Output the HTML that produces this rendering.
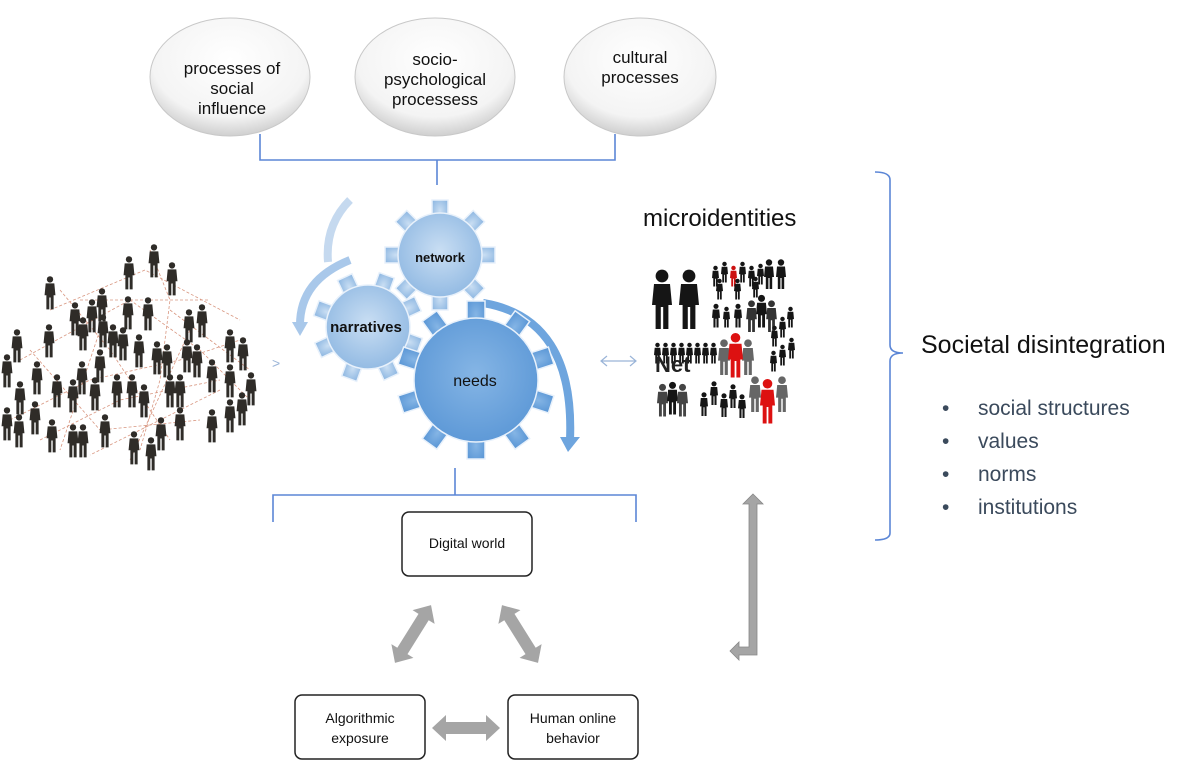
<!DOCTYPE html>
<html><head><meta charset="utf-8"><style>
html,body{margin:0;padding:0;background:#fff}
svg{display:block}
text{font-family:"Liberation Sans",sans-serif}
</style></head><body>
<svg width="1200" height="763" viewBox="0 0 1200 763" xmlns="http://www.w3.org/2000/svg">
<defs>
<radialGradient id="ov" cx="50%" cy="35%" r="65%">
<stop offset="0" stop-color="#ffffff"/><stop offset="0.75" stop-color="#f4f4f4"/><stop offset="1" stop-color="#cfcfcf"/>
</radialGradient>
<radialGradient id="gs" cx="50%" cy="45%" r="60%">
<stop offset="0" stop-color="#c9def3"/><stop offset="1" stop-color="#8fb8e2"/>
</radialGradient>
<radialGradient id="gb" cx="50%" cy="45%" r="60%">
<stop offset="0" stop-color="#85b5e5"/><stop offset="1" stop-color="#5b97d6"/>
</radialGradient>
<symbol id="p" viewBox="0 0 10 30" overflow="visible">
<circle cx="5" cy="3" r="2.8" fill="#2f2c28"/>
<path d="M1.2 6.5 H8.8 L9.8 17 H8.2 V29.5 H5.6 V19 H4.4 V29.5 H1.8 V17 H0.2 Z" fill="#2f2c28"/>
</symbol>
<symbol id="q" viewBox="0 0 10 30" overflow="visible">
<circle cx="5" cy="3.5" r="3.2"/>
<path d="M1 7.5 H9 L10 18 H8.2 V30 H5.6 V19 H4.4 V30 H1.8 V18 H0 Z"/>
</symbol>
<path id="dbl" d="M-34 0 L-20 -13 L-20 -6 L20 -6 L20 -13 L34 0 L20 13 L20 6 L-20 6 L-20 13 Z"/>
</defs>

<!-- top ovals -->
<ellipse cx="230" cy="77" rx="80" ry="59" fill="url(#ov)" stroke="#c8c8c8"/>
<ellipse cx="435" cy="77" rx="80" ry="59" fill="url(#ov)" stroke="#c8c8c8"/>
<ellipse cx="640" cy="77" rx="76" ry="59" fill="url(#ov)" stroke="#c8c8c8"/>
<g font-size="17" fill="#111" text-anchor="middle">
<text x="232" y="74">processes of</text><text x="232" y="94">social</text><text x="232" y="114">influence</text>
<text x="435" y="65">socio-</text><text x="435" y="85">psychological</text><text x="435" y="105">processess</text>
<text x="640" y="63">cultural</text><text x="640" y="83">processes</text>
</g>
<path d="M260 134 V160 H615 V134 M437 160 V185" fill="none" stroke="#5b86d6" stroke-width="1.6"/>
<path d="M455 468 V495 M273 522 V495 H636 V522" fill="none" stroke="#5b86d6" stroke-width="1.6"/>

<!-- people network -->
<g stroke="#c86a4a" stroke-width="0.8" stroke-dasharray="3 2" opacity="0.7" fill="none">
<path d="M50 310 L145 270 L240 320 M20 360 L130 300 L200 350 L250 400 M40 440 L120 400 L220 380 M60 290 L110 350 L170 440 M150 250 L170 300 L160 380 L140 450 M10 420 L90 380 L180 360 L240 340 M30 350 L100 430 L200 420 M80 300 L210 300 M100 330 L60 450 M190 330 L130 460 M220 390 L90 455 M170 310 L250 370"/>
</g>
<g>
<use href="#p" x="44" y="276" width="12" height="34"/>
<use href="#p" x="123" y="256" width="12" height="34"/>
<use href="#p" x="148" y="244" width="12" height="34"/>
<use href="#p" x="166" y="262" width="12" height="34"/>
<use href="#p" x="96" y="288" width="12" height="34"/>
<use href="#p" x="69" y="302" width="12" height="34"/>
<use href="#p" x="86" y="299" width="12" height="34"/>
<use href="#p" x="97" y="314" width="12" height="34"/>
<use href="#p" x="77" y="317" width="12" height="34"/>
<use href="#p" x="122" y="296" width="12" height="34"/>
<use href="#p" x="142" y="297" width="12" height="34"/>
<use href="#p" x="183" y="309" width="12" height="34"/>
<use href="#p" x="196" y="304" width="12" height="34"/>
<use href="#p" x="11" y="329" width="12" height="34"/>
<use href="#p" x="43" y="324" width="12" height="34"/>
<use href="#p" x="107" y="324" width="12" height="34"/>
<use href="#p" x="117" y="327" width="12" height="34"/>
<use href="#p" x="133" y="334" width="12" height="34"/>
<use href="#p" x="151" y="341" width="12" height="34"/>
<use href="#p" x="161" y="344" width="12" height="34"/>
<use href="#p" x="181" y="339" width="12" height="34"/>
<use href="#p" x="191" y="344" width="12" height="34"/>
<use href="#p" x="224" y="329" width="12" height="34"/>
<use href="#p" x="237" y="337" width="12" height="34"/>
<use href="#p" x="1" y="354" width="12" height="34"/>
<use href="#p" x="31" y="361" width="12" height="34"/>
<use href="#p" x="51" y="374" width="12" height="34"/>
<use href="#p" x="76" y="361" width="12" height="34"/>
<use href="#p" x="94" y="349" width="12" height="34"/>
<use href="#p" x="67" y="379" width="12" height="34"/>
<use href="#p" x="89" y="377" width="12" height="34"/>
<use href="#p" x="111" y="374" width="12" height="34"/>
<use href="#p" x="126" y="374" width="12" height="34"/>
<use href="#p" x="138" y="384" width="12" height="34"/>
<use href="#p" x="164" y="374" width="12" height="34"/>
<use href="#p" x="174" y="374" width="12" height="34"/>
<use href="#p" x="206" y="359" width="12" height="34"/>
<use href="#p" x="224" y="364" width="12" height="34"/>
<use href="#p" x="245" y="372" width="12" height="34"/>
<use href="#p" x="1" y="407" width="12" height="34"/>
<use href="#p" x="13" y="414" width="12" height="34"/>
<use href="#p" x="46" y="419" width="12" height="34"/>
<use href="#p" x="67" y="424" width="12" height="34"/>
<use href="#p" x="77" y="424" width="12" height="34"/>
<use href="#p" x="99" y="414" width="12" height="34"/>
<use href="#p" x="128" y="431" width="12" height="34"/>
<use href="#p" x="145" y="437" width="12" height="34"/>
<use href="#p" x="155" y="417" width="12" height="34"/>
<use href="#p" x="174" y="407" width="12" height="34"/>
<use href="#p" x="206" y="409" width="12" height="34"/>
<use href="#p" x="236" y="392" width="12" height="34"/>
<use href="#p" x="224" y="399" width="12" height="34"/>
<use href="#p" x="14" y="381" width="12" height="34"/>
<use href="#p" x="29" y="401" width="12" height="34"/>
</g>
<text x="272" y="368" font-size="14" fill="#9ab4d8">&gt;</text>

<!-- gear arrows -->
<g fill="none">
<path d="M350 200 Q325 225 328 262" stroke="#c5d9ef" stroke-width="8"/>
<path d="M350 260 Q300 280 300 325" stroke="#a9c8ea" stroke-width="8"/>
<path d="M292 322 L300 336 L308 322 Z" fill="#a9c8ea"/>
<path d="M483 303 Q575 318 570 440" stroke="#6ea5de" stroke-width="8"/>
<path d="M560 437 L568 452 L580 437 Z" fill="#6ea5de"/>
</g>
<!-- gears -->
<g transform="translate(440,255)" fill="url(#gs)" stroke="#e8f1fb" stroke-width="1.5">
<rect x="-8" y="-55" width="16" height="24" transform="rotate(0)"/><rect x="-8" y="-55" width="16" height="24" transform="rotate(45)"/><rect x="-8" y="-55" width="16" height="24" transform="rotate(90)"/><rect x="-8" y="-55" width="16" height="24" transform="rotate(135)"/><rect x="-8" y="-55" width="16" height="24" transform="rotate(180)"/><rect x="-8" y="-55" width="16" height="24" transform="rotate(225)"/><rect x="-8" y="-55" width="16" height="24" transform="rotate(270)"/><rect x="-8" y="-55" width="16" height="24" transform="rotate(315)"/>
<circle r="42"/>
</g>
<g transform="translate(368,327)" fill="url(#gs)" stroke="#e8f1fb" stroke-width="1.5">
<rect x="-8" y="-55" width="16" height="24" transform="rotate(20)"/><rect x="-8" y="-55" width="16" height="24" transform="rotate(65)"/><rect x="-8" y="-55" width="16" height="24" transform="rotate(110)"/><rect x="-8" y="-55" width="16" height="24" transform="rotate(155)"/><rect x="-8" y="-55" width="16" height="24" transform="rotate(200)"/><rect x="-8" y="-55" width="16" height="24" transform="rotate(245)"/><rect x="-8" y="-55" width="16" height="24" transform="rotate(290)"/><rect x="-8" y="-55" width="16" height="24" transform="rotate(335)"/>
<circle r="42"/>
</g>
<g transform="translate(476,380)" fill="url(#gb)" stroke="#e8f1fb" stroke-width="1.5">
<rect x="-9" y="-79" width="18" height="30" transform="rotate(0)"/><rect x="-9" y="-79" width="18" height="30" transform="rotate(36)"/><rect x="-9" y="-79" width="18" height="30" transform="rotate(72)"/><rect x="-9" y="-79" width="18" height="30" transform="rotate(108)"/><rect x="-9" y="-79" width="18" height="30" transform="rotate(144)"/><rect x="-9" y="-79" width="18" height="30" transform="rotate(180)"/><rect x="-9" y="-79" width="18" height="30" transform="rotate(216)"/><rect x="-9" y="-79" width="18" height="30" transform="rotate(252)"/><rect x="-9" y="-79" width="18" height="30" transform="rotate(288)"/><rect x="-9" y="-79" width="18" height="30" transform="rotate(324)"/>
<circle r="62"/>
</g>
<g font-weight="bold" fill="#111" text-anchor="middle">
<text x="440" y="262" font-size="13">network</text>
<text x="366" y="332" font-size="15">narratives</text>
<text x="475" y="386" font-size="16" font-weight="normal">needs</text>
</g>

<!-- microidentities -->
<text x="643" y="226" font-size="24" fill="#111">microidentities</text>
<path d="M601 361 H636 M607 356 L601 361 L607 366 M630 356 L636 361 L630 366" fill="none" stroke="#9ab4d8" stroke-width="1.2"/>
<g fill="#151515">
<use href="#q" x="652" y="268" width="20" height="62"/>
<use href="#q" x="679" y="268" width="20" height="62"/>
<use href="#q" x="712" y="264" width="7" height="24"/><use href="#q" x="721" y="260" width="7" height="24"/><use href="#q" x="730" y="264" width="7" height="24" fill="#c11"/><use href="#q" x="739" y="260" width="7" height="24"/><use href="#q" x="748" y="264" width="7" height="24"/><use href="#q" x="757" y="262" width="7" height="24"/>
<use href="#q" x="716" y="278" width="7" height="22"/><use href="#q" x="734" y="278" width="7" height="22"/><use href="#q" x="752" y="276" width="7" height="22"/>
<use href="#q" x="764" y="258" width="10" height="32"/><use href="#q" x="776" y="258" width="10" height="32"/>
<use href="#q" x="712" y="302" width="8" height="27"/><use href="#q" x="723" y="306" width="7" height="22"/><use href="#q" x="734" y="302" width="8" height="27"/>
<use href="#q" x="746" y="300" width="11" height="32" fill="#333"/><use href="#q" x="756" y="294" width="11" height="34"/><use href="#q" x="766" y="300" width="11" height="32" fill="#333"/>
<use href="#q" x="771" y="325" width="7" height="22"/><use href="#q" x="779" y="316" width="7" height="22"/><use href="#q" x="787" y="306" width="7" height="22"/>
<use href="#q" x="654" y="340" width="7" height="26"/><use href="#q" x="662" y="340" width="7" height="26"/><use href="#q" x="670" y="340" width="7" height="26"/><use href="#q" x="678" y="340" width="7" height="26"/><use href="#q" x="686" y="340" width="7" height="26"/><use href="#q" x="694" y="340" width="7" height="26"/><use href="#q" x="702" y="340" width="7" height="26"/><use href="#q" x="710" y="340" width="7" height="26"/>
<use href="#q" x="718" y="338" width="12" height="38" fill="#666"/><use href="#q" x="742" y="338" width="12" height="38" fill="#666"/>
<use href="#q" x="728" y="332" width="15" height="46" fill="#d11"/>
<use href="#q" x="770" y="350" width="7" height="22"/><use href="#q" x="779" y="344" width="7" height="22"/><use href="#q" x="788" y="337" width="7" height="22"/>
<use href="#q" x="657" y="382" width="11" height="36" fill="#444"/><use href="#q" x="667" y="378" width="11" height="40"/><use href="#q" x="677" y="382" width="11" height="36" fill="#444"/>
<use href="#q" x="700" y="392" width="8" height="24"/><use href="#q" x="710" y="381" width="8" height="24"/><use href="#q" x="720" y="393" width="8" height="24"/><use href="#q" x="729" y="384" width="8" height="24"/><use href="#q" x="738" y="394" width="8" height="24"/>
<use href="#q" x="749" y="376" width="12" height="36" fill="#666"/><use href="#q" x="776" y="376" width="12" height="36" fill="#666"/>
<use href="#q" x="760" y="378" width="15" height="46" fill="#d11"/>
</g>
<text x="655" y="372" font-size="22" font-weight="bold" fill="#222">Net</text>

<!-- right brace -->
<path d="M875 172 Q890 172 890 180 V345 Q890 353 903 353 Q890 353 890 361 V533 Q890 540 875 540" fill="none" stroke="#5b86d6" stroke-width="1.6"/>
<text x="921" y="353" font-size="25" fill="#111">Societal disintegration</text>
<g font-size="21" fill="#3b4a5c">
<text x="942" y="415">•</text><text x="978" y="415">social structures</text>
<text x="942" y="448">•</text><text x="978" y="448">values</text>
<text x="942" y="481">•</text><text x="978" y="481">norms</text>
<text x="942" y="514">•</text><text x="978" y="514">institutions</text>
</g>

<!-- boxes -->
<g fill="#fff" stroke="#222" stroke-width="1.5">
<rect x="402" y="512" width="130" height="64" rx="7"/>
<rect x="295" y="695" width="130" height="64" rx="7"/>
<rect x="508" y="695" width="130" height="64" rx="7"/>
</g>
<g font-size="14" fill="#111" text-anchor="middle">
<text x="467" y="548">Digital world</text>
<text x="360" y="723">Algorithmic</text><text x="360" y="743">exposure</text>
<text x="573" y="723">Human online</text><text x="573" y="743">behavior</text>
</g>

<!-- grey arrows -->
<g fill="#a5a5a5">
<use href="#dbl" transform="translate(413,634) rotate(-58)"/>
<use href="#dbl" transform="translate(520,634) rotate(58)"/>
<use href="#dbl" transform="translate(466,728)"/>
<path d="M753 494 L763 504 L757 504 L757 655 L739 655 L739 660 L730 651 L739 642 L739 647 L749 647 L749 504 L743 504 Z" stroke="#888" stroke-width="0.8"/>
</g>
</svg>
</body></html>
